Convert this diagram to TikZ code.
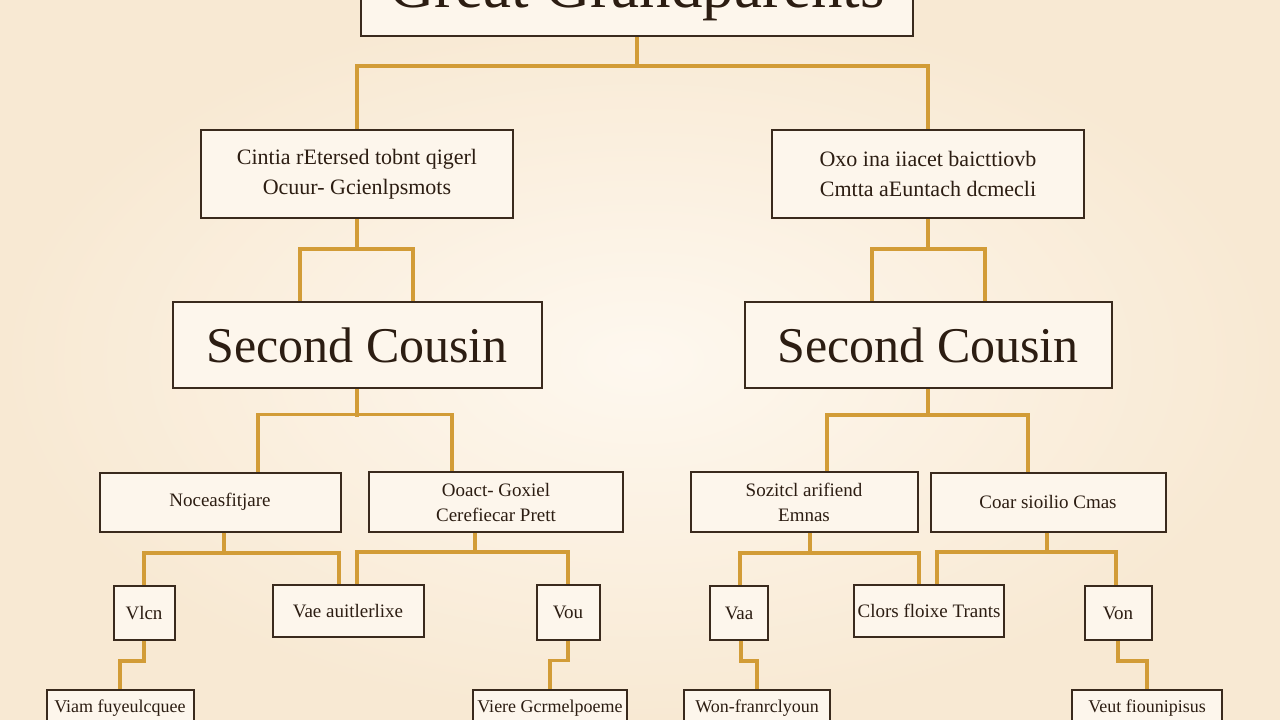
\documentclass[tikz,border=0pt]{standalone}
\usepackage{fontspec}
\setmainfont{Liberation Serif}
\usepackage{xcolor}

\definecolor{parchment}{HTML}{F8E9D3}
\definecolor{parchmentlight}{HTML}{FEF8EF}
\definecolor{boxfill}{HTML}{FDF6EC}
\definecolor{inkbrown}{HTML}{3A2A1D}
\definecolor{textbrown}{HTML}{2C1D12}
\definecolor{goldline}{HTML}{D29C37}

\tikzset{
    famtree/.style={rectangle, draw=inkbrown, line width=2pt, fill=boxfill,
        text=textbrown, align=center, inner sep=0pt},
    hugebox/.style={famtree, font=\fontsize{63}{70}\selectfont},
    bigbox/.style={famtree, font=\fontsize{50}{56}\selectfont},
    midbox/.style={famtree, font=\fontsize{22}{30}\selectfont},
    smallbox/.style={famtree, font=\fontsize{19}{25}\selectfont},
    footbox/.style={famtree, font=\fontsize{18}{22}\selectfont},
    branch/.style={draw=goldline, line width=3.2pt}
}

\begin{document}
\begin{tikzpicture}[x=1pt,y=-1pt]
    \useasboundingbox (0,0) rectangle (1280,720);
    \clip (0,0) rectangle (1280,720);
    \shade[inner color=parchmentlight, outer color=parchment] (0,0) rectangle (1280,720);

    % Top of the tree
    \node[hugebox, minimum width=552, minimum height=88] (grand) at (637,-8) {Great Grandparents};

    % Second row
    \node[midbox, minimum width=312, minimum height=88] (parentl) at (357,174)
        {Cintia rEtersed tobnt qigerl\\Ocuur- Gcienlpsmots};
    \node[midbox, minimum width=312, minimum height=88] (parentr) at (928,174)
        {Oxo ina iiacet baicttiovb\\Cmtta aEuntach dcmecli};

    % Cousins
    \node[bigbox, minimum width=369, minimum height=86] (cousinl) at (357,345) {Second Cousin};
    \node[bigbox, minimum width=367, minimum height=86] (cousinr) at (928,345) {Second Cousin};

    % Fourth row
    \node[smallbox, minimum width=241, minimum height=59] (rowa) at (220,502) {Noceasfitjare};
    \node[smallbox, minimum width=254, minimum height=60] (rowb) at (496,502)
        {Ooact- Goxiel\\Cerefiecar Prett};
    \node[smallbox, minimum width=227, minimum height=60] (rowc) at (804,502)
        {Sozitcl arifiend\\Emnas};
    \node[smallbox, minimum width=235, minimum height=59] (rowd) at (1048,502) {Coar sioilio Cmas};

    % Fifth row
    \node[smallbox, minimum width=61, minimum height=54] (kida) at (144,613) {Vlcn};
    \node[smallbox, minimum width=151, minimum height=52] (kidb) at (348,611) {Vae auitlerlixe};
    \node[smallbox, minimum width=63, minimum height=55] (kidc) at (568,612) {Vou};
    \node[smallbox, minimum width=58, minimum height=54] (kidd) at (739,613) {Vaa};
    \node[smallbox, minimum width=150, minimum height=52] (kide) at (929,611) {Clors floixe Trants};
    \node[smallbox, minimum width=67, minimum height=54] (kidf) at (1118,613) {Von};

    % Bottom row (runs off the page)
    \node[footbox, minimum width=147, minimum height=36] (lasta) at (120,708) {Viam fuyeulcquee};
    \node[footbox, minimum width=154, minimum height=36] (lastb) at (550,708) {Viere Gcrmelpoeme};
    \node[footbox, minimum width=146, minimum height=36] (lastc) at (757,708) {Won-franrclyoun};
    \node[footbox, minimum width=150, minimum height=36] (lastd) at (1147,708) {Veut fiounipisus};

    % Connections
    \draw[branch] (grand.south) -- ++(0,31);
    \draw[branch] (parentl.north) -- ++(0,-63) -| (parentr.north);

    \draw[branch] (parentl.south) -- ++(0,32);
    \draw[branch] ([xshift=-57]cousinl.north) -- ++(0,-52) -| ([xshift=56]cousinl.north);
    \draw[branch] (parentr.south) -- ++(0,32);
    \draw[branch] ([xshift=-56]cousinr.north) -- ++(0,-52) -| ([xshift=57]cousinr.north);

    \draw[branch] (cousinl.south) -- ++(0,28);
    \draw[branch] ([xshift=38]rowa.north) -- ++(0,-57) -| ([xshift=-44]rowb.north);
    \draw[branch] (cousinr.south) -- ++(0,28);
    \draw[branch] ([xshift=23]rowc.north) -- ++(0,-56) -| ([xshift=-20]rowd.north);

    \draw[branch] ([xshift=4]rowa.south) -- ++(0,21);
    \draw[branch] (kida.north) -- ++(0,-32) -| ([xshift=-9]kidb.north);
    \draw[branch] ([xshift=-21]rowb.south) -- ++(0,21);
    \draw[branch] ([xshift=9]kidb.north) -- ++(0,-32) -| (kidc.north);
    \draw[branch] ([xshift=6]rowc.south) -- ++(0,21);
    \draw[branch] ([xshift=1]kidd.north) -- ++(0,-32) -| ([xshift=-10]kide.north);
    \draw[branch] ([xshift=-1]rowd.south) -- ++(0,21);
    \draw[branch] ([xshift=8]kide.north) -- ++(0,-32) -| ([xshift=-2]kidf.north);

    \draw[branch] (kida.south) -- ++(0,20) -| (lasta.north);
    \draw[branch] (kidc.south) -- ++(0,20) -| (lastb.north);
    \draw[branch] ([xshift=2]kidd.south) -- ++(0,20) -| (lastc.north);
    \draw[branch] (kidf.south) -- ++(0,20) -| (lastd.north);
\end{tikzpicture}
\end{document}
